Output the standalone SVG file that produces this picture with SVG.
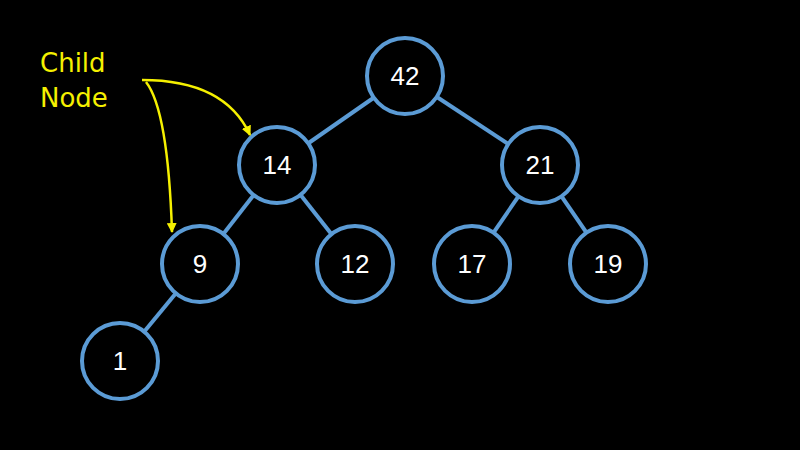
<svg xmlns="http://www.w3.org/2000/svg" width="800" height="450" viewBox="0 0 800 450">
<style>
.n circle{fill:#000;stroke:#5b9bd5;stroke-width:4}
.n text{fill:#fff;font-family:"Liberation Sans",Arial,sans-serif;font-size:26px;text-anchor:middle;dominant-baseline:central}
.e line{stroke:#5b9bd5;stroke-width:4}
.a path{fill:none;stroke:#f5f000;stroke-width:2.5}
.lbl{fill:#f5f000;font-family:"DejaVu Sans",sans-serif;font-size:26px}
</style>
<defs><marker id="ah" viewBox="0 0 10 10" refX="9" refY="5" markerWidth="4" markerHeight="4" orient="auto"><path d="M0,0L10,5L0,10z" fill="#f5f000"/></marker></defs>
<rect width="800" height="450" fill="#000"/>
<g id="connectors" class="e">
<line x1="405" y1="76" x2="277" y2="165"/><line x1="405" y1="76" x2="540" y2="165"/>
<line x1="277" y1="165" x2="200" y2="264"/><line x1="277" y1="165" x2="355" y2="264"/>
<line x1="540" y1="165" x2="472" y2="264"/><line x1="540" y1="165" x2="608" y2="264"/>
<line x1="200" y1="264" x2="120" y2="361"/>
</g>
<g id="n42" class="n"><circle cx="405" cy="76" r="38"/><text x="405" y="76">42</text></g>
<g id="n14" class="n"><circle cx="277" cy="165" r="38"/><text x="277" y="165">14</text></g>
<g id="n21" class="n"><circle cx="540" cy="165" r="38"/><text x="540" y="165">21</text></g>
<g id="n9" class="n"><circle cx="200" cy="264" r="38"/><text x="200" y="264">9</text></g>
<g id="n12" class="n"><circle cx="355" cy="264" r="38"/><text x="355" y="264">12</text></g>
<g id="n17" class="n"><circle cx="472" cy="264" r="38"/><text x="472" y="264">17</text></g>
<g id="n19" class="n"><circle cx="608" cy="264" r="38"/><text x="608" y="264">19</text></g>
<g id="n1" class="n"><circle cx="120" cy="361" r="38"/><text x="120" y="361">1</text></g>
<g id="label">
<text class="lbl" x="40" y="72">Child</text>
<text class="lbl" x="40" y="107">Node</text>
</g>
<g id="annot" class="a">
<path d="M142,80 Q225,80 250,135" marker-end="url(#ah)"/>
<path d="M146,82 Q168,110 172,232" marker-end="url(#ah)"/>
</g>
</svg>
